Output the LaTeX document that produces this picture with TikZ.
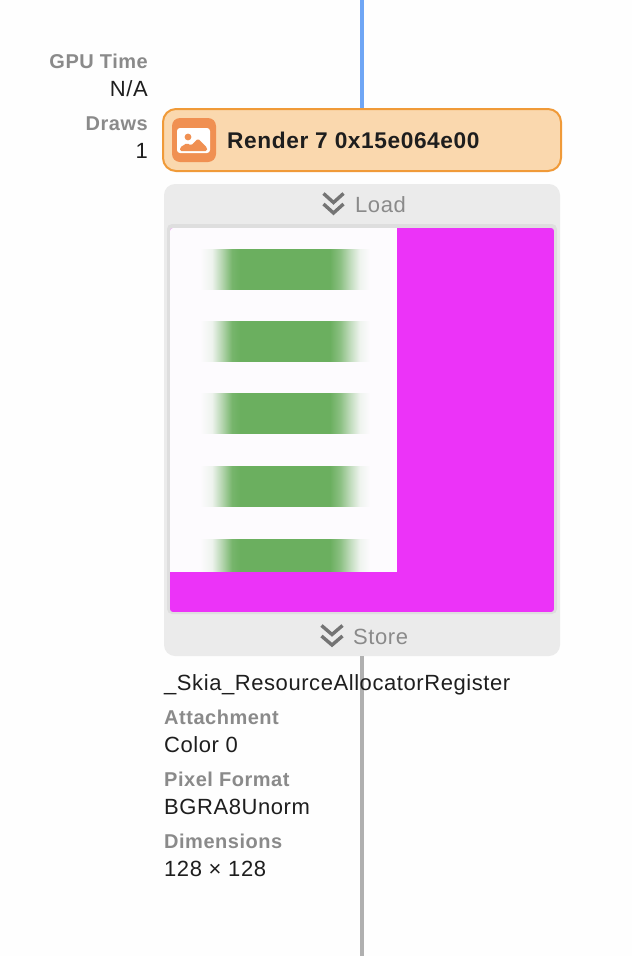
\documentclass[tikz,border=0pt]{standalone}
\usepackage{fontspec}
\setmainfont[LetterSpace=2.6]{Liberation Sans}
\usetikzlibrary{positioning}
\usepackage{xcolor}
\definecolor{pagebg}{HTML}{FEFEFE}
\definecolor{wireblue}{HTML}{6FA6F5}
\definecolor{wiregray}{HTML}{B0B0B0}
\definecolor{panelgray}{HTML}{EBEBEB}
\definecolor{framegray}{HTML}{DEDEDE}
\definecolor{captiongray}{HTML}{8A8A8A}
\definecolor{chevrongray}{HTML}{747474}
\definecolor{inkblack}{HTML}{1E1E1E}
\definecolor{renderfill}{HTML}{FAD8AE}
\definecolor{renderline}{HTML}{F09A38}
\definecolor{iconorange}{HTML}{F09052}
\definecolor{texmagenta}{HTML}{EC33F8}
\definecolor{texwhite}{HTML}{FDFBFE}
\definecolor{texgreen}{HTML}{6BAF5F}
\pgfdeclarehorizontalshading{bandfade}{100bp}{
	color(0bp)=(texwhite); color(25bp)=(texwhite);
	color(28.5bp)=(texgreen!10!texwhite); color(31.5bp)=(texgreen!50!texwhite);
	color(34.4bp)=(texgreen!92!texwhite); color(36.8bp)=(texgreen);
	color(63.2bp)=(texgreen); color(66.2bp)=(texgreen!78!texwhite);
	color(69.1bp)=(texgreen!42!texwhite); color(72bp)=(texgreen!10!texwhite);
	color(75bp)=(texwhite); color(100bp)=(texwhite)}
\tikzset{
	caption/.style={font=\bfseries\fontsize{20}{20}\selectfont, text=captiongray, inner sep=0pt},
	value/.style={font=\fontsize{22}{22}\selectfont, text=inkblack, inner sep=0pt},
	action/.style={font=\fontsize{22}{22}\selectfont, text=captiongray, inner sep=0pt},
	wire/.style={line width=4pt},
	chevron/.style={chevrongray, line width=3.4pt, line join=miter}
}
\begin{document}
\begin{tikzpicture}[x=1pt,y=-1pt]
	\useasboundingbox[fill=pagebg] (0,0) rectangle (632,956);
	\coordinate (top) at (362,0);
	\coordinate (bottom) at (362,956);
	% header box
	\node[draw=renderline, fill=renderfill, line width=2pt, rounded corners=13pt, minimum width=398pt, minimum height=62pt, inner sep=0pt] (render) at (362,140) {};
	\draw[wire, wireblue] (top) -- (render.north);
	% grey panel
	\node[fill=panelgray, rounded corners=11pt, minimum width=396pt, minimum height=472pt, inner sep=0pt] (panel) at (362,420) {};
	\draw[wire, wiregray] (panel.south) -- (bottom);
	\node[fill=framegray, rounded corners=5pt, minimum width=390pt, minimum height=390pt, inner sep=0pt] (frame) at (362,419) {};
	% texture
	\begin{scope}
		\clip[rounded corners=3pt] (170,228) rectangle (554,612);
		\fill[texmagenta] (170,228) rectangle (554,612);
		\fill[texwhite] (170,228) rectangle (397,572);
		\foreach \ytop/\ybot in {249/289.5, 321/361.5, 393/433.5, 466/506.5, 539/571} {
			\shade[shading=bandfade] (200,\ytop) rectangle (370,\ybot);
		}
	\end{scope}
	% icon
	\fill[iconorange, rounded corners=8pt] (172,118) rectangle (216,162);
	\fill[white, rounded corners=3pt] (177,128) rectangle (210,153);
	\fill[iconorange] (188,137) circle (3.4);
	\fill[iconorange, rounded corners=1.5pt] (180,151) -- (180,147.5) -- (187,143) -- (191,145.5) -- (198,138.5) -- (207,147.5) -- (207,151) -- cycle;
	\node[anchor=base west, inner sep=0pt, text=inkblack, font=\bfseries\fontsize{22.7}{23}\selectfont] (rendername) at (227,148) {Render 7 0x15e064e00};
	% counters
	\node[caption, anchor=base east] (gputime) at (148,68) {GPU Time};
	\node[value, anchor=base east] (gpuvalue) at (148,96) {N/A};
	\node[caption, anchor=base east] (draws) at (148,130) {Draws};
	\node[value, anchor=base east] (drawsvalue) at (148,158) {1};
	% load and store
	\draw[chevron] (323.5,193.5) -- (333.5,202.5) -- (343.5,193.5);
	\draw[chevron] (323.5,204) -- (333.5,213) -- (343.5,204);
	\node[action, anchor=base west] (load) at (355,212) {Load};
	\draw[chevron] (321.5,625.5) -- (332,634.5) -- (342.5,625.5);
	\draw[chevron] (321.5,636) -- (332,645) -- (342.5,636);
	\node[action, anchor=base west] (store) at (353,644) {Store};
	% attachment
	\node[value, anchor=base west] (resource) at (164,690) {\_Skia\_ResourceAllocatorRegister};
	\node[caption, anchor=base west] (attachment) at (164,724) {Attachment};
	\node[value, anchor=base west] (color) at (164,752) {Color 0};
	\node[caption, anchor=base west] (format) at (164,786) {Pixel Format};
	\node[value, anchor=base west] (bgra) at (164,814) {BGRA8Unorm};
	\node[caption, anchor=base west] (dimensions) at (164,848) {Dimensions};
	\node[value, anchor=base west] (size) at (164,876) {128 × 128};
\end{tikzpicture}
\end{document}
